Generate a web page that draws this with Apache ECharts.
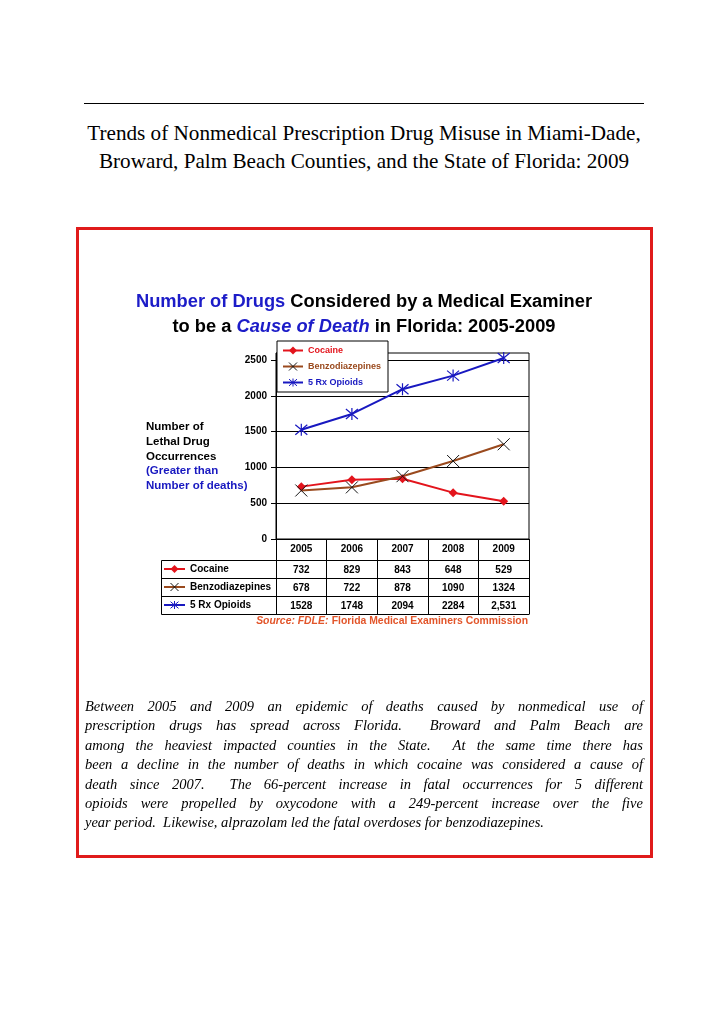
<!DOCTYPE html>
<html>
<head>
<meta charset="utf-8">
<script src="https://cdn.jsdelivr.net/npm/echarts@6/dist/echarts.min.js"></script>
<style>
html,body{margin:0;padding:0;background:#fff;width:728px;height:1030px;overflow:hidden;}
#rule{position:absolute;left:84px;top:103px;width:560px;height:1px;background:#000;}
#doctitle{position:absolute;left:64px;top:119px;width:600px;text-align:center;font-family:'Liberation Serif','Times New Roman',serif;font-size:21.2px;line-height:28px;color:#000;}
#box{position:absolute;left:76px;top:227px;width:577px;height:631px;border:3px solid #e01b1b;box-sizing:border-box;}
#chart{position:absolute;left:0;top:0;width:728px;height:1030px;}
#para{position:absolute;left:85px;top:697px;width:558px;font-family:'Liberation Serif','Times New Roman',serif;font-style:italic;font-size:14.5px;line-height:19.4px;color:#000;}
#para div{text-align:justify;text-align-last:justify;}
#para div.last{text-align:left;text-align-last:left;}
</style>
</head>
<body>
<div id="rule"></div>
<div id="doctitle">Trends of Nonmedical Prescription Drug Misuse in Miami-Dade,<br>Broward, Palm Beach Counties, and the State of Florida: 2009</div>
<div id="box"></div>
<div id="chart"></div>
<div id="para">
<div>Between 2005 and 2009 an epidemic of deaths caused by nonmedical use of</div>
<div>prescription drugs has spread across Florida.&nbsp; Broward and Palm Beach are</div>
<div>among the heaviest impacted counties in the State.&nbsp; At the same time there has</div>
<div>been a decline in the number of deaths in which cocaine was considered a cause of</div>
<div>death since 2007.&nbsp; The 66-percent increase in fatal occurrences for 5 different</div>
<div>opioids were propelled by oxycodone with a 249-percent increase over the five</div>
<div class="last">year period.&nbsp; Likewise, alprazolam led the fatal overdoses for benzodiazepines.</div>
</div>
<script>
// ---- data ----
const years = ['2005', '2006', '2007', '2008', '2009'];
const cocaine = [732, 829, 843, 648, 529];
const benzo = [678, 722, 878, 1090, 1324];
const opioids = [1528, 1748, 2094, 2284, 2531];
const opioidLabels = ['1528', '1748', '2094', '2284', '2,531'];
const seriesNames = ['Cocaine', 'Benzodiazepines', '5 Rx Opioids'];
const yTicks = [0, 500, 1000, 1500, 2000, 2500];

// ---- styles ----
const FONT = '"Liberation Sans", Arial, Helvetica, sans-serif';
const RED = '#e3141c';
const BROWN = '#9a4a1e';
const BLUE = '#1818c0';
const TITLE_BLUE = '#1c1cc8';
const ORANGE = '#e2552a';

const chart = echarts.init(document.getElementById('chart'), null, {renderer: 'canvas'});

const legendIconStyle = {borderWidth: 1};

const option = {
  animation: false,
  backgroundColor: 'transparent',
  textStyle: {fontFamily: FONT},
  grid: {
    left: 276, top: 353, width: 253, height: 186,
    show: true, borderColor: '#000', borderWidth: 1,
    containLabel: false, outerBoundsMode: 'none'
  },
  xAxis: {
    type: 'category',
    data: years,
    boundaryGap: true,
    axisLine: {show: true, lineStyle: {color: '#000', width: 1}},
    axisTick: {show: true, interval: 0, length: 75, lineStyle: {color: '#000', width: 1}},
    axisLabel: {interval: 0, margin: 5, color: '#000', fontWeight: 'bold', fontSize: 10, fontFamily: FONT},
    splitLine: {show: false}
  },
  yAxis: {
    type: 'value',
    min: 0, max: 2600, interval: 500,
    axisLine: {show: true, lineStyle: {color: '#000', width: 1}},
    axisTick: {show: true, length: 5, lineStyle: {color: '#000'}, customValues: yTicks},
    axisLabel: {
      customValues: yTicks,
      margin: 9, color: '#000', fontWeight: 'bold', fontSize: 10, fontFamily: FONT,
      formatter: v => (v % 500 === 0 ? String(v) : '')
    },
    splitLine: {show: true, lineStyle: {color: '#000', width: 1}}
  },
  legend: [
    {
      selectedMode: false,
      orient: 'vertical',
      left: 277, top: 341,
      padding: [5, 7, 5, 5],
      itemGap: 7, itemWidth: 20, itemHeight: 10,
      backgroundColor: '#fff', borderColor: '#000', borderWidth: 1,
      z: 10,
      itemStyle: legendIconStyle,
      textStyle: {fontSize: 9, fontWeight: 'bold', fontFamily: FONT},
      data: [
        {name: seriesNames[0], textStyle: {color: RED}},
        {name: seriesNames[1], textStyle: {color: BROWN}},
        {name: seriesNames[2], textStyle: {color: BLUE}}
      ]
    },
    {
      selectedMode: false,
      orient: 'vertical',
      left: 163, top: 564,
      padding: 0,
      itemGap: 8, itemWidth: 21, itemHeight: 10,
      itemStyle: legendIconStyle,
      textStyle: {fontSize: 10, fontWeight: 'bold', color: '#000', fontFamily: FONT},
      data: seriesNames
    }
  ],
  series: [
    {
      name: seriesNames[0], type: 'line', data: cocaine,
      symbol: 'diamond', symbolSize: 9,
      lineStyle: {color: RED, width: 2},
      itemStyle: {color: RED, borderWidth: 0},
      z: 3
    },
    {
      name: seriesNames[1], type: 'line', data: benzo,
      symbol: 'path://M0,0L10,10M0,10L10,0', symbolSize: 12,
      lineStyle: {color: BROWN, width: 2},
      itemStyle: {color: BROWN, borderColor: '#151515', borderWidth: 1}
    },
    {
      name: seriesNames[2], type: 'line', data: opioids,
      symbol: 'path://M0,0L10,10M0,10L10,0M5,-1L5,11', symbolSize: 12,
      lineStyle: {color: BLUE, width: 2},
      itemStyle: {color: BLUE, borderColor: BLUE, borderWidth: 1.2}
    }
  ]
};

chart.setOption(option);

// ---- table, titles and notes ----
const rows = [cocaine.map(String), benzo.map(String), opioidLabels];
const rowLines = [560.5, 578.5, 596.5, 614.5];
const tableLeft = 161.5;
const plotRight = 529.5;
const graphics = [];

rowLines.forEach(y => graphics.push({
  type: 'line', shape: {x1: tableLeft, y1: y, x2: plotRight, y2: y},
  style: {stroke: '#000', lineWidth: 1}, silent: true
}));
graphics.push({
  type: 'line', shape: {x1: tableLeft, y1: rowLines[0], x2: tableLeft, y2: rowLines[3]},
  style: {stroke: '#000', lineWidth: 1}, silent: true
});

years.forEach((yr, i) => {
  const x = chart.convertToPixel({xAxisIndex: 0}, yr);
  rows.forEach((r, j) => {
    graphics.push({
      type: 'text', x: x, y: (rowLines[j] + rowLines[j + 1]) / 2 + 0.5, silent: true,
      style: {text: r[i], align: 'center', verticalAlign: 'middle', fill: '#000',
        fontSize: 10, fontWeight: 'bold', fontFamily: FONT}
    });
  });
});

// chart title
graphics.push({
  type: 'text', x: 364, y: 289.5, silent: true,
  style: {
    text: '{bb|Number of Drugs}{k| Considered by a Medical Examiner}\n{k|to be a }{bi|Cause of Death}{k| in Florida: 2005-2009}',
    align: 'center',
    rich: {
      k: {fontSize: 18.3, fontWeight: 'bold', fill: '#000', fontFamily: FONT, lineHeight: 25},
      bb: {fontSize: 18.3, fontWeight: 'bold', fill: TITLE_BLUE, fontFamily: FONT, lineHeight: 25},
      bi: {fontSize: 18.3, fontWeight: 'bold', fontStyle: 'italic', fill: TITLE_BLUE, fontFamily: FONT, lineHeight: 25}
    }
  }
});

// y axis name
graphics.push({
  type: 'text', x: 146, y: 419.5, silent: true,
  style: {
    text: '{b|Number of}\n{b|Lethal Drug}\n{b|Occurrences}\n{u|(Greater than}\n{u|Number of deaths)}',
    align: 'left',
    rich: {
      b: {fontSize: 11.5, fontWeight: 'bold', fill: '#000', fontFamily: FONT, lineHeight: 14.8},
      u: {fontSize: 11.5, fontWeight: 'bold', fill: BLUE, fontFamily: FONT, lineHeight: 14.8}
    }
  }
});

// source
graphics.push({
  type: 'text', x: 528, y: 621, silent: true,
  style: {
    text: '{i|Source: FDLE:} {n|Florida Medical Examiners Commission}',
    align: 'right', verticalAlign: 'middle',
    rich: {
      i: {fontSize: 10.4, fontWeight: 'bold', fontStyle: 'italic', fill: ORANGE, fontFamily: FONT},
      n: {fontSize: 10.4, fontWeight: 'bold', fill: ORANGE, fontFamily: FONT}
    }
  }
});

chart.setOption({graphic: graphics});
</script>
</body>
</html>
